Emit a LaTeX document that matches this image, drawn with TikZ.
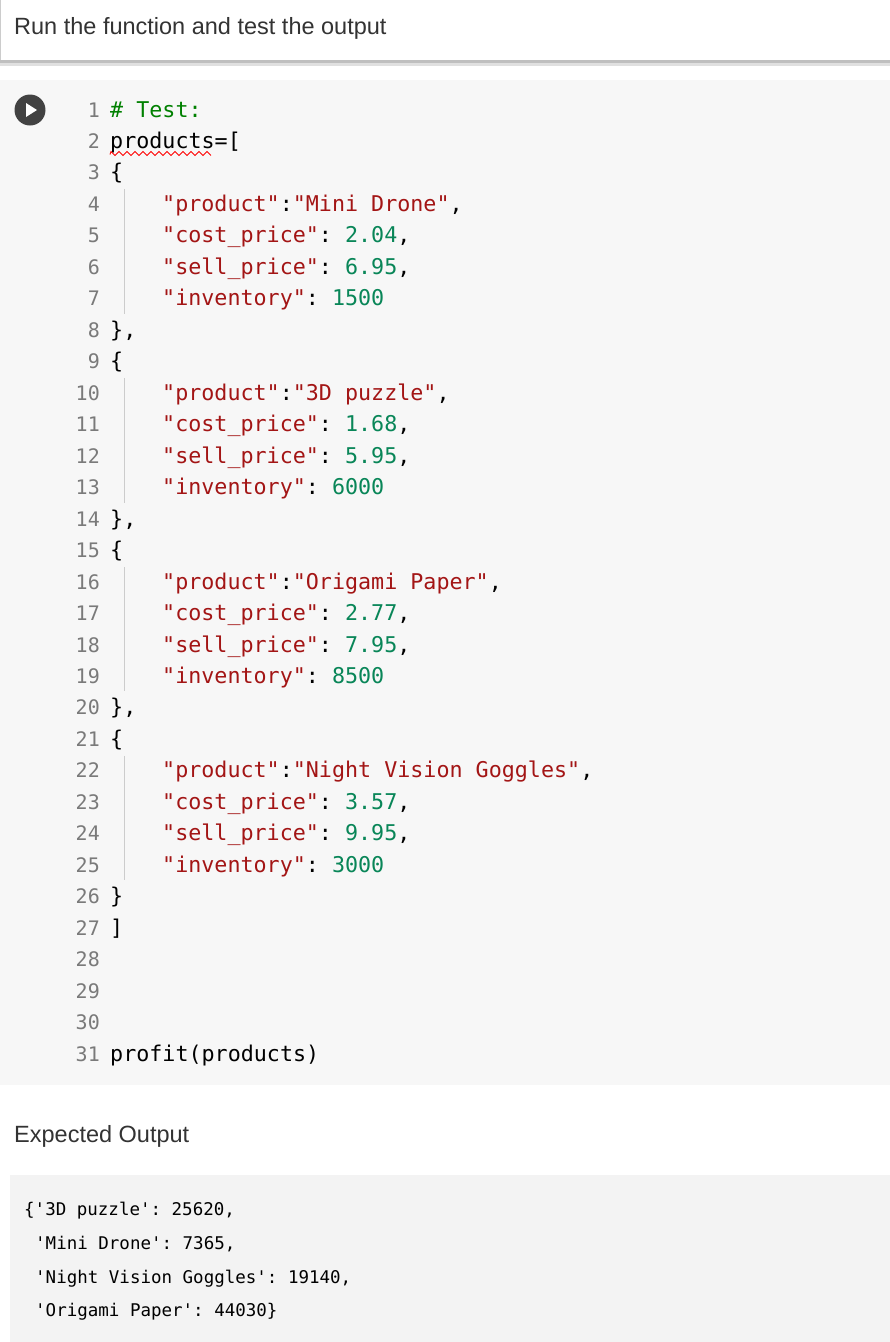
\documentclass[tikz,border=0pt]{standalone}
\usepackage{fontspec}
\setmainfont{Liberation Sans}
\setmonofont{DejaVu Sans Mono}
\definecolor{cellbg}{HTML}{F7F7F7}
\definecolor{outbg}{HTML}{F3F3F3}
\definecolor{lnum}{HTML}{7A7A7A}
\definecolor{cstr}{HTML}{A31515}
\definecolor{cnum}{HTML}{098658}
\definecolor{ccom}{HTML}{008000}
\definecolor{btn}{HTML}{424242}
\newcommand{\sS}[1]{\textcolor{cstr}{#1}}
\newcommand{\sN}[1]{\textcolor{cnum}{#1}}
\newcommand{\Y}[1]{117+(#1-1)*31.47}
\tikzset{
  code/.style={anchor=base west,inner sep=0pt,font=\ttfamily\fontsize{21.7}{21.7}\selectfont},
  lnumst/.style={anchor=base east,inner sep=0pt,text=lnum,font=\ttfamily\fontsize{20}{20}\selectfont},
  outst/.style={anchor=base west,inner sep=0pt,font=\ttfamily\fontsize{17.5}{17.5}\selectfont},
  head/.style={anchor=base west,inner sep=0pt,text=black!80,font=\fontsize{23.5}{23.5}\selectfont},
  guide/.style={draw=black!20,line width=1pt}
}
\begin{document}
\begin{tikzpicture}[x=1pt,y=-1pt]
\useasboundingbox (0,0) rectangle (890,1342);
\fill[white] (0,0) rectangle (890,1342);
% header box
\fill[black!25] (0,59) rectangle (890,63);
\fill[black!12] (0,63) rectangle (890,66);
\fill[white] (0,0) rectangle (890,60);
\draw[black!20] (0.5,0) -- (0.5,60);
\node[head] (title) at (14,34) {Run the function and test the output};
% code cell
\fill[cellbg] (0,80) rectangle (890,1085);
\node[circle,fill=btn,minimum size=31pt,inner sep=0pt] (run) at (30,110) {};
\fill[white] ([xshift=-4pt,yshift=-7pt]run.center) -- ([xshift=-4pt,yshift=7pt]run.center) -- ([xshift=7pt]run.center) -- cycle;
\foreach \i in {1,...,31}{
  \node[lnumst] (n\i) at (100,{\Y{\i}}) {\i};
}
\node[code] (l1) at (110,{\Y{1}}) {\textcolor{ccom}{\# Test:}};
\node[code] (l2) at (110,{\Y{2}}) {products=[};
\draw[red,line width=0.8pt] (110,154.5) \foreach \k in {0,...,25}{ -- ({111+\k*4},{148.47+(mod(\k,2)==0?3:7)}) };
\node[code] (l3) at (110,{\Y{3}}) {\{};
\node[code] (l4) at (162,{\Y{4}}) {\sS{"product"}:\sS{"Mini Drone"},};
\node[code] (l5) at (162,{\Y{5}}) {\sS{"cost\_price"}: \sN{2.04},};
\node[code] (l6) at (162,{\Y{6}}) {\sS{"sell\_price"}: \sN{6.95},};
\node[code] (l7) at (162,{\Y{7}}) {\sS{"inventory"}: \sN{1500}};
\node[code] (l8) at (110,{\Y{8}}) {\},};
\node[code] (l9) at (110,{\Y{9}}) {\{};
\node[code] (l10) at (162,{\Y{10}}) {\sS{"product"}:\sS{"3D puzzle"},};
\node[code] (l11) at (162,{\Y{11}}) {\sS{"cost\_price"}: \sN{1.68},};
\node[code] (l12) at (162,{\Y{12}}) {\sS{"sell\_price"}: \sN{5.95},};
\node[code] (l13) at (162,{\Y{13}}) {\sS{"inventory"}: \sN{6000}};
\node[code] (l14) at (110,{\Y{14}}) {\},};
\node[code] (l15) at (110,{\Y{15}}) {\{};
\node[code] (l16) at (162,{\Y{16}}) {\sS{"product"}:\sS{"Origami Paper"},};
\node[code] (l17) at (162,{\Y{17}}) {\sS{"cost\_price"}: \sN{2.77},};
\node[code] (l18) at (162,{\Y{18}}) {\sS{"sell\_price"}: \sN{7.95},};
\node[code] (l19) at (162,{\Y{19}}) {\sS{"inventory"}: \sN{8500}};
\node[code] (l20) at (110,{\Y{20}}) {\},};
\node[code] (l21) at (110,{\Y{21}}) {\{};
\node[code] (l22) at (162,{\Y{22}}) {\sS{"product"}:\sS{"Night Vision Goggles"},};
\node[code] (l23) at (162,{\Y{23}}) {\sS{"cost\_price"}: \sN{3.57},};
\node[code] (l24) at (162,{\Y{24}}) {\sS{"sell\_price"}: \sN{9.95},};
\node[code] (l25) at (162,{\Y{25}}) {\sS{"inventory"}: \sN{3000}};
\node[code] (l26) at (110,{\Y{26}}) {\}};
\node[code] (l27) at (110,{\Y{27}}) {]};
\node[code] (l31) at (110,{\Y{31}}) {profit(products)};
\foreach \a in {4,10,16,22}{
  \draw[guide] (124,{\Y{\a}-22}) -- (124,{\Y{\a}+3*31.47+8});
}
% expected output
\node[head] (eo) at (14,1142) {Expected Output};
\fill[outbg] (10,1175) rectangle (890,1342);
\node[outst] (o1) at (24,1215) {\{'3D puzzle': 25620,};
\node[outst] (o2) at (35,1249) {'Mini Drone': 7365,};
\node[outst] (o3) at (35,1283) {'Night Vision Goggles': 19140,};
\node[outst] (o4) at (35,1316) {'Origami Paper': 44030\}};
\end{tikzpicture}
\end{document}
